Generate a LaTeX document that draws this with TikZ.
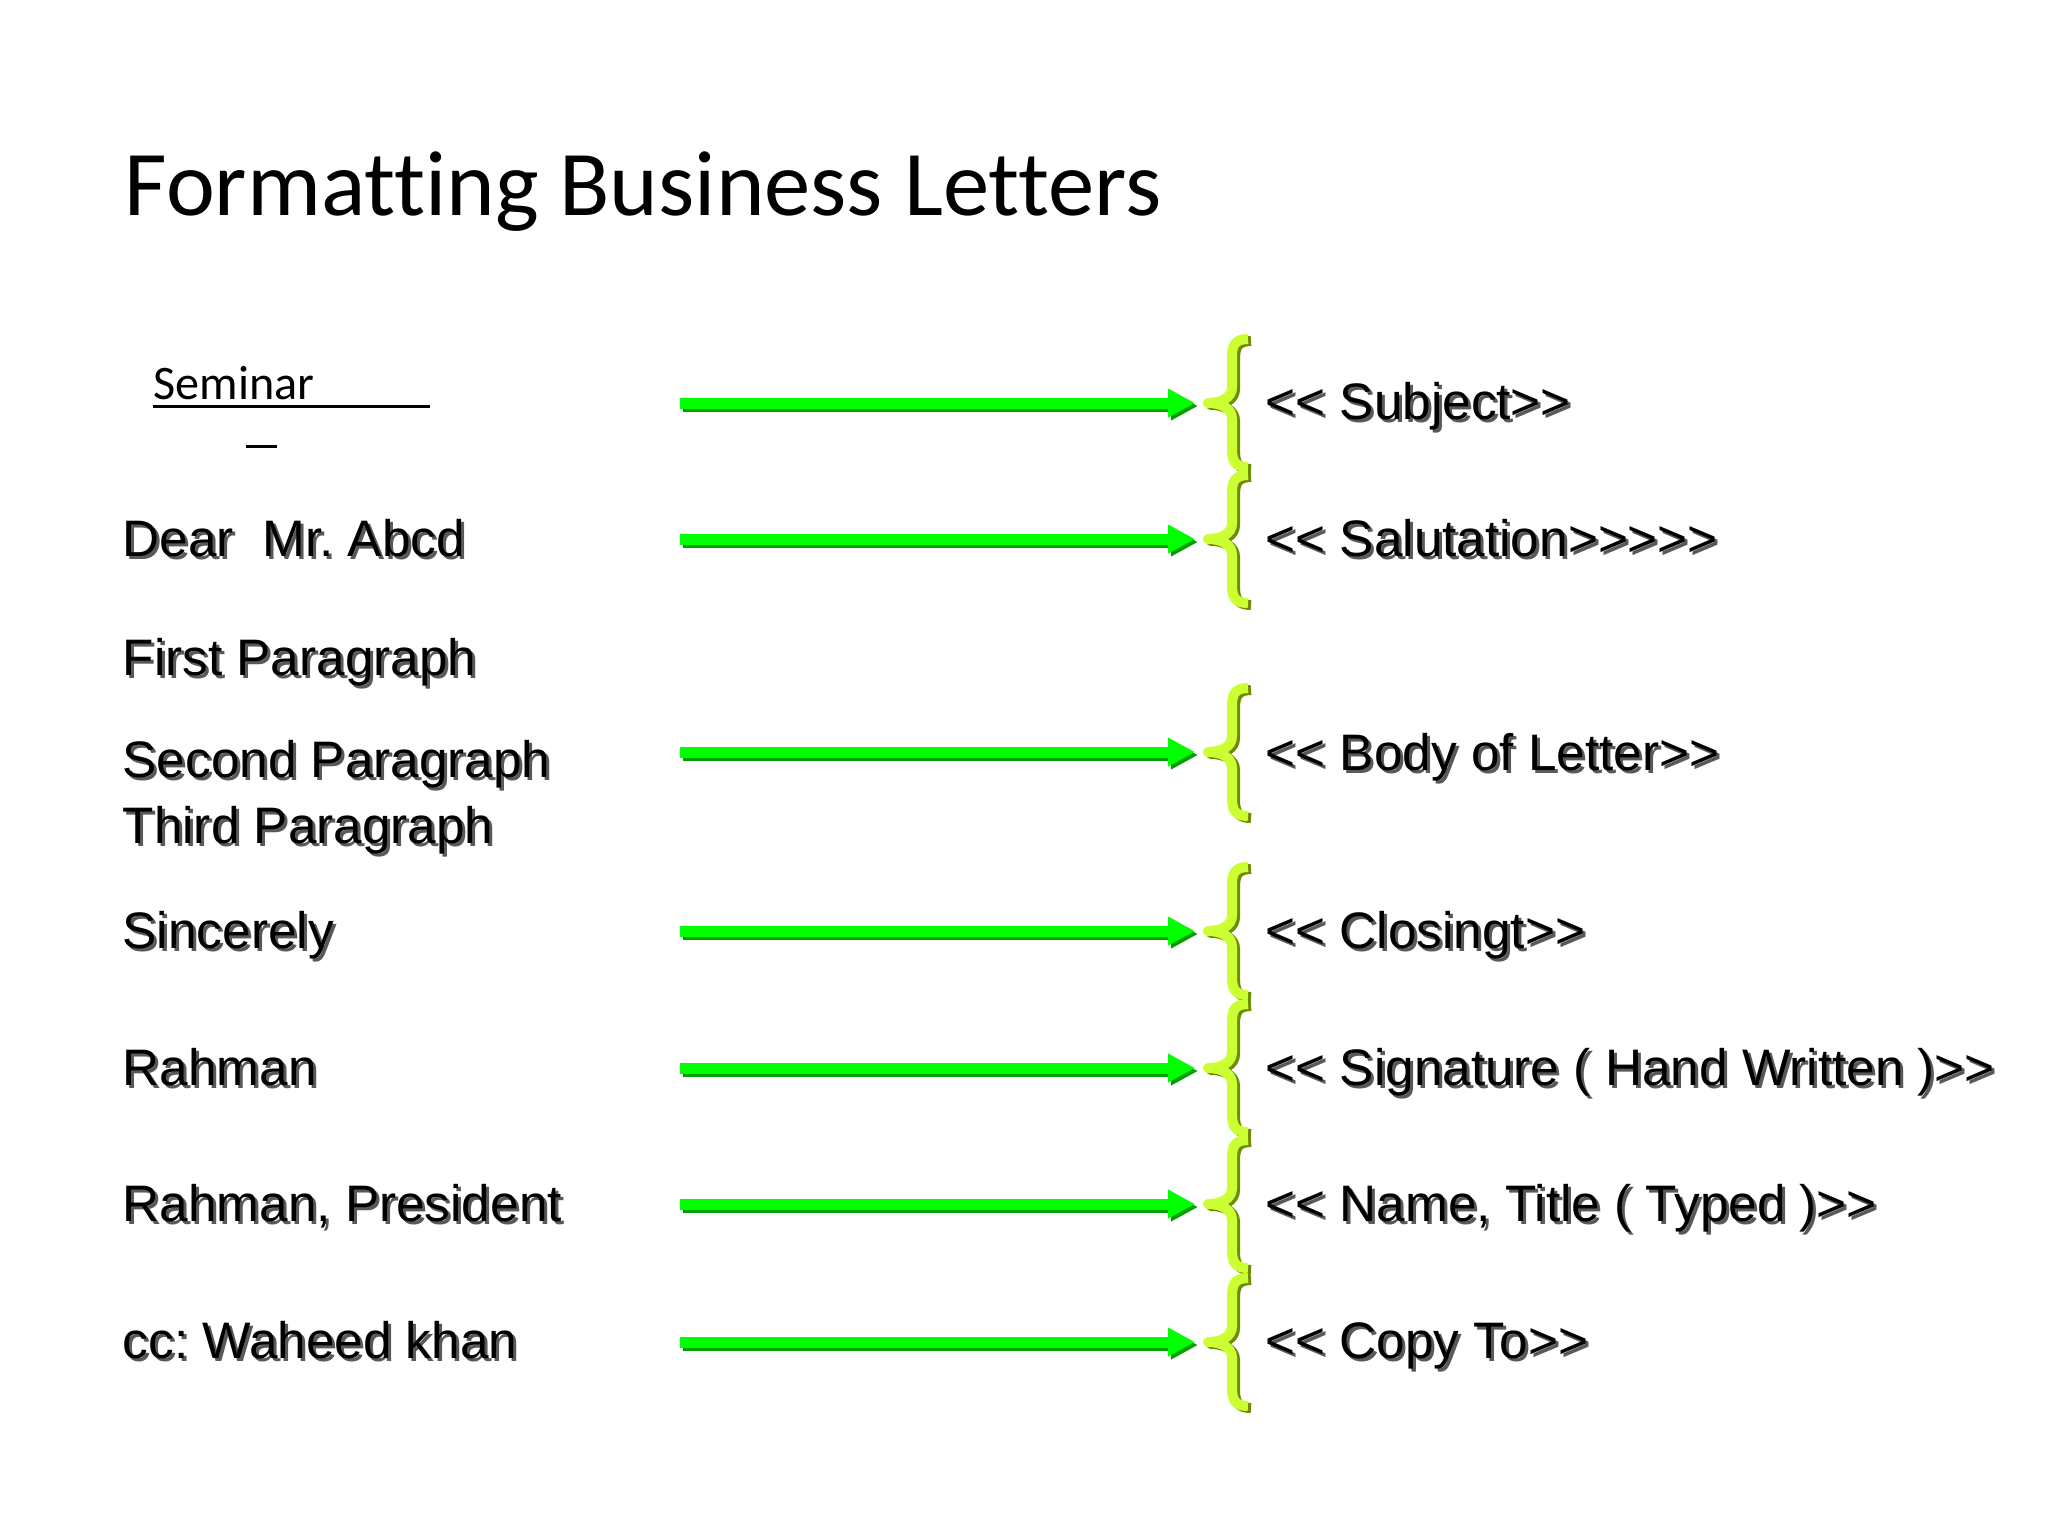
\documentclass[tikz,border=0pt]{standalone}
\usepackage{fontspec}
\setmainfont{Liberation Sans}
\newfontfamily\calibri[Ligatures=NoCommon]{Carlito}
\usetikzlibrary{arrows.meta}
\definecolor{arrgreen}{HTML}{00FF00}
\definecolor{arrshadow}{HTML}{00A000}
\definecolor{bracecol}{HTML}{CCFF33}
\definecolor{braceshadow}{HTML}{6E8C00}
\newcommand\LT{<\kern0pt}
\newcommand\GT{\kern0pt>}
\newcommand\shlabel[4]{%
  \node[shadowlbl] at (#2+3,#3+3) {#4};
  \node[lbl] (#1) at (#2,#3) {#4};}
\newcommand\drawbrace[2]{%
  \begin{scope}[shift={(1207,#2)}]
    \draw[braceshadowstroke, shift={(3,2)}] (41,-64) .. controls (27,-64) and (25,-57) .. (25,-45) -- (25,-16) .. controls (25,-5) and (14,0) .. (1,0) .. controls (14,0) and (25,5) .. (25,16) -- (25,45) .. controls (25,57) and (27,64) .. (41,64);
    \draw[bracestroke] (41,-64) .. controls (27,-64) and (25,-57) .. (25,-45) -- (25,-16) .. controls (25,-5) and (14,0) .. (1,0) .. controls (14,0) and (25,5) .. (25,16) -- (25,45) .. controls (25,57) and (27,64) .. (41,64);
    \coordinate (#1) at (0,0);
  \end{scope}}
\begin{document}
\frenchspacing
\begin{tikzpicture}[x=0.1mm,y=-0.1mm,
  lbl/.style={anchor=base west, inner sep=0pt, font=\frenchspacing\fontsize{14.6}{17}\selectfont},
  shadowlbl/.style={lbl, text=black!65},
  arrowline/.style={line width=1.1mm, arrgreen, -{Triangle[length=2.7mm,width=2.7mm]}},
  arrowshadow/.style={line width=1.1mm, arrshadow, -{Triangle[length=2.7mm,width=2.7mm]}},
  bracestroke/.style={line width=1.0mm, bracecol, line cap=butt, line join=round},
  braceshadowstroke/.style={line width=1.0mm, braceshadow, line cap=butt, line join=round},
  seminar/.style={anchor=base west, inner sep=0pt, font=\calibri\fontsize{13.7}{16}\selectfont},
  title/.style={anchor=base west, inner sep=0pt, font=\calibri\fontsize{26.35}{32}\selectfont}
]
\useasboundingbox[fill=white] (0,0) rectangle (2048,1536);

\node[title] (title) at (124,215) {Formatting Business Letters};

% Seminar header
\node[seminar] (seminar) at (153,399) {Seminar};
\coordinate (ul1) at (153,406);
\coordinate (ul2) at (430,406);
\draw[line width=0.3mm] (ul1) -- (ul2);
\coordinate (dash1) at (246,446);
\coordinate (dash2) at (277,446);
\draw[line width=0.3mm] (dash1) -- (dash2);

% arrows and braces
\foreach \y/\n in {403/1,539/2,752/3,931/4,1068/5,1204/6,1342/7}{
  \drawbrace{bt\n}{\y}
  \coordinate (as\n) at (680,\y);
  \draw[arrowshadow, shorten >=1.2mm] ([shift={(3,3)}]as\n) -- ([shift={(3,3)}]bt\n);
  \draw[arrowline, shorten >=1.2mm] (as\n) -- (bt\n);
}

% left labels
\shlabel{dear}{122}{556}{Dear\ \ Mr. Abcd}
\shlabel{first}{122}{675}{First Paragraph}
\shlabel{second}{122}{777}{Second Paragraph}
\shlabel{third}{122}{843}{Third Paragraph}
\shlabel{sincerely}{122}{948}{Sincerely}
\shlabel{rahman}{122}{1085}{Rahman}
\shlabel{president}{122}{1221}{Rahman, President}
\shlabel{cc}{122}{1358}{cc: Waheed khan}

% right labels
\shlabel{subject}{1265}{419}{\LT\LT{} Subject\GT\GT}
\shlabel{salutation}{1265}{556}{\LT\LT{} Salutation\GT\GT\GT\GT\GT}
\shlabel{body}{1265}{770}{\LT\LT{} Body of Letter\GT\GT}
\shlabel{closing}{1265}{948}{\LT\LT{} Closingt\GT\GT}
\shlabel{signature}{1265}{1085}{\LT\LT{} Signature ( Hand Written )\GT\GT}
\shlabel{name}{1265}{1221}{\LT\LT{} Name, Title ( Typed )\GT\GT}
\shlabel{copy}{1265}{1358}{\LT\LT{} Copy To\GT\GT}
\end{tikzpicture}
\end{document}
